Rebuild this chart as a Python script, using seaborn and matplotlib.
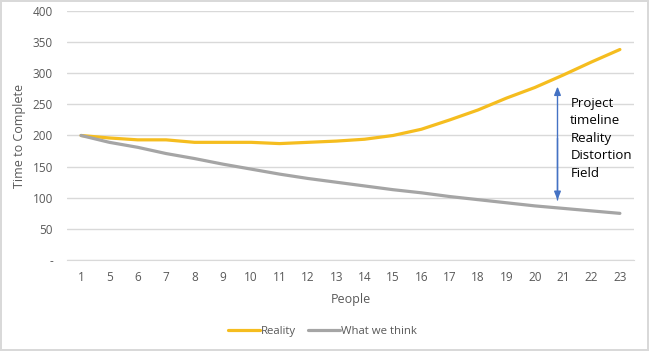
import pandas as pd
import matplotlib
matplotlib.use("Agg")
import matplotlib.pyplot as plt
import seaborn as sns

# data
people = ["1", "5", "6", "7", "8", "9", "10", "11", "12", "13",
          "14", "15", "16", "17", "18", "19", "20", "21", "22", "23"]
reality = [200, 196, 193, 193, 189, 189, 189, 187, 189, 191,
           194, 200, 210, 225, 241, 260, 277, 297, 318, 338]
what_we_think = [200, 189, 181, 171, 163, 154, 146, 138, 131, 125,
                 119, 113, 108, 102, 97, 92, 87, 83, 79, 75]
y_ticks = [0, 50, 100, 150, 200, 250, 300, 350, 400]
y_tick_labels = ["-", "50", "100", "150", "200", "250", "300", "350", "400"]

df = pd.DataFrame({"People": people * 2,
                   "Time": reality + what_we_think,
                   "Series": ["Reality"] * len(people) + ["What we think"] * len(people)})

sns.set_style("white")
plt.rcParams["font.family"] = ["Open Sans", "DejaVu Sans"]

fig = plt.figure(figsize=(6.49, 3.51), dpi=100)
fig.patch.set_edgecolor("#D9D9D9")
fig.patch.set_linewidth(1.5)
ax = fig.add_axes([0.103, 0.259, 0.874, 0.71])

sns.lineplot(data=df, x="People", y="Time", hue="Series",
             palette={"Reality": "#F5BD1F", "What we think": "#A5A5A5"},
             linewidth=2.3, sort=False, ax=ax, legend=False)

ax.set_ylim(0, 400)
ax.set_xlim(-0.5, len(people) - 0.5)
ax.set_yticks(y_ticks)
ax.set_yticklabels(y_tick_labels)
ax.yaxis.grid(True, color="#D9D9D9", linewidth=1)
ax.set_axisbelow(True)
for s in ["top", "right", "left"]:
    ax.spines[s].set_visible(False)
ax.spines["bottom"].set_color("#D9D9D9")
ax.tick_params(axis="both", length=0, labelsize=8.5, colors="#595959", pad=8)
ax.tick_params(axis="y", pad=10)
ax.set_xlabel("People", fontsize=9, color="#595959", labelpad=6)
ax.set_ylabel("Time to Complete", fontsize=9, color="#595959", labelpad=5)

# annotation arrow between the two lines
ax.annotate("", xy=(16.8, 283), xytext=(16.8, 92),
            arrowprops=dict(arrowstyle="-|>,head_width=0.2,head_length=0.5",
                            color="#4472C4", lw=1))
ax.annotate("", xy=(16.8, 92), xytext=(16.8, 200),
            arrowprops=dict(arrowstyle="-|>,head_width=0.2,head_length=0.5",
                            color="#4472C4", lw=1))
ax.text(17.25, 262, "Project\ntimeline\nReality\nDistortion\nField",
        fontsize=9.5, color="black", va="top", ha="left", linespacing=1.45)

handles = [plt.Line2D([], [], color="#F5BD1F", lw=2.3),
           plt.Line2D([], [], color="#A5A5A5", lw=2.3)]
fig.legend(handles, ["Reality", "What we think"], loc="center",
           bbox_to_anchor=(0.497, 0.055), ncol=2, frameon=False,
           fontsize=8.2, labelcolor="#595959", handlelength=2.8,
           handletextpad=0.1, columnspacing=1.0)

fig.savefig("out.png", dpi=100)
